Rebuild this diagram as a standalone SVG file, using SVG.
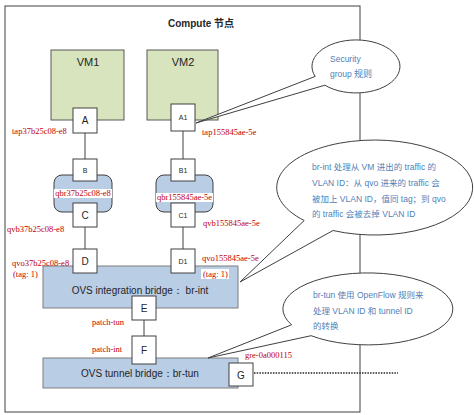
<svg xmlns="http://www.w3.org/2000/svg" width="474" height="415" viewBox="0 0 474 415">
<style>
.frame{fill:none;stroke:#404040;stroke-width:1}
.vm{fill:#d7e4bd;stroke:#595959;stroke-width:1}
.box{fill:#ffffff;stroke:#404040;stroke-width:1}
.br{fill:#b9cde5;stroke:#7f7f7f;stroke-width:1}
.qbr{fill:#b9cde5;stroke:#404040;stroke-width:1}
.conn{stroke:#404040;stroke-width:1;fill:none}
.callout{fill:#ffffff;stroke:#404040;stroke-width:1}
.red{font-family:"Liberation Serif","Noto Sans CJK SC",serif;font-size:8.5px;fill:#c00000}
.lbl{font-family:"Liberation Sans",Arial,sans-serif;fill:#262626;text-anchor:middle}
.big{font-size:10px}
.small{font-size:7px}
.ct{font-family:"Liberation Sans","Noto Sans CJK SC",sans-serif;font-size:8.5px;fill:#4f7fb8}
.hl{fill:#ffffff}
</style>
<rect x="0" y="0" width="474" height="415" fill="#ffffff"/>
<rect class="frame" x="5" y="6" width="355" height="406"/>
<text x="201" y="27" font-family="Liberation Sans,'Noto Sans CJK SC',sans-serif" font-size="10" font-weight="bold" text-anchor="middle" fill="#262626">Compute 节点</text>

<g id="vm1"><rect class="vm" x="51" y="50" width="73" height="70"/><text class="lbl" x="88" y="66" font-size="11">VM1</text></g>
<g id="vm2"><rect class="vm" x="147" y="50" width="71" height="70"/><text class="lbl" x="183" y="66" font-size="11">VM2</text></g>

<g id="connectors">
<line class="conn" x1="85" y1="133" x2="85" y2="159"/>
<line class="conn" x1="85" y1="227" x2="85" y2="249"/>
<line class="conn" x1="183" y1="131" x2="183" y2="159"/>
<line class="conn" x1="183" y1="227" x2="183" y2="249"/>
<line class="conn" x1="144" y1="320" x2="144" y2="336"/>
<line x1="254" y1="373" x2="398" y2="373" stroke="#262626" stroke-width="1.5" stroke-dasharray="1.5 1.2"/>
</g>

<g id="qbr1"><rect class="qbr" x="54" y="175" width="58" height="37" rx="8"/></g>
<g id="qbr2"><rect class="qbr" x="156" y="175" width="57" height="37" rx="8"/></g>

<g id="br-int"><rect class="br" x="43" y="266" width="195" height="42"/><text class="lbl" x="140" y="294" font-size="10">OVS integration bridge：  br-int</text></g>
<g id="br-tun"><rect class="br" x="43" y="358" width="195" height="30"/><text class="lbl" x="140" y="377" font-size="10">OVS tunnel bridge：br-tun</text></g>

<g id="A"><rect class="box" x="73" y="108" width="24" height="25"/><text class="lbl big" x="85" y="124">A</text></g>
<g id="A1"><rect class="box" x="171" y="104" width="24" height="27"/><text class="lbl small" x="183" y="120">A1</text></g>
<g id="B"><rect class="box" x="73" y="159" width="24" height="22"/><text class="lbl small" x="85" y="173">B</text></g>
<g id="B1"><rect class="box" x="171" y="159" width="24" height="22"/><text class="lbl small" x="183" y="173">B1</text></g>
<g id="C"><rect class="box" x="73" y="203" width="24" height="24"/><text class="lbl big" x="85" y="219">C</text></g>
<g id="C1"><rect class="box" x="171" y="203" width="24" height="24"/><text class="lbl small" x="183" y="218">C1</text></g>
<g id="D"><rect class="box" x="73" y="249" width="24" height="24"/><text class="lbl big" x="85" y="265">D</text></g>
<g id="D1"><rect class="box" x="171" y="249" width="24" height="24"/><text class="lbl small" x="183" y="264">D1</text></g>
<g id="E"><rect class="box" x="132" y="296" width="24" height="24"/><text class="lbl big" x="144" y="312">E</text></g>
<g id="F"><rect class="box" x="132" y="336" width="24" height="28"/><text class="lbl big" x="144" y="354">F</text></g>
<g id="G"><rect class="box" x="229" y="363" width="24" height="23"/><text class="lbl big" x="241" y="379">G</text></g>

<g id="labels">
<text class="red" x="12" y="134">tap37b25c08-e8</text>
<text class="red" x="202" y="135">tap155845ae-5e</text>
<rect class="hl" x="54" y="189" width="58" height="9"/>
<text class="red" x="83" y="196" text-anchor="middle">qbr37b25c08-e8</text>
<rect class="hl" x="156" y="193" width="57" height="9"/>
<text class="red" x="184.5" y="200" text-anchor="middle">qbr155845ae-5e</text>
<text class="red" x="7" y="232">qvb37b25c08-e8</text>
<text class="red" x="203" y="226">qvb155845ae-5e</text>
<text class="red" x="12" y="266">qvo37b25c08-e8</text>
<text class="red" x="13" y="277">(tag: 1)</text>
<text class="red" x="202" y="261">qvo155845ae-5e</text>
<rect class="hl" x="201" y="269" width="28" height="10"/>
<text class="red" x="203" y="277">(tag: 1)</text>
<text class="red" x="92" y="325">patch-tun</text>
<text class="red" x="92" y="352">patch-int</text>
<text class="red" x="245" y="358">gre-0a000115</text>
</g>

<g id="callout-sg">
<path class="callout" d="M315.2,76.4 L196,123 L324.9,85.2 A44,26.5 0 1 0 315.2,76.4 Z"/>
<text class="ct" x="330" y="62">Security</text>
<text class="ct" x="330" y="77">group <tspan font-size="9">规则</tspan></text>
</g>
<g id="callout-brint">
<path class="callout" d="M304.2,220.5 L240,282 L333,230.5 A98,47.5 0 1 0 304.2,220.5 Z"/>
<text class="ct" x="312" y="170">br-int 处理从 VM 进出的 traffic 的</text>
<text class="ct" x="312" y="186">VLAN ID：从 qvo 进来的 traffic 会</text>
<text class="ct" x="312" y="202">被加上 VLAN ID，值同 tag；到 qvo</text>
<text class="ct" x="312" y="217">的 traffic 会被去掉 VLAN ID</text>
</g>
<g id="callout-brtun">
<path class="callout" d="M291.6,324.8 L208,358 L311.1,335.7 A85,36 0 1 0 291.6,324.8 Z"/>
<text class="ct" x="313" y="298">br-tun 使用 OpenFlow 规则来</text>
<text class="ct" x="313" y="314">处理  VLAN ID 和  tunnel ID</text>
<text class="ct" x="313" y="329">的转换</text>
</g>
</svg>
